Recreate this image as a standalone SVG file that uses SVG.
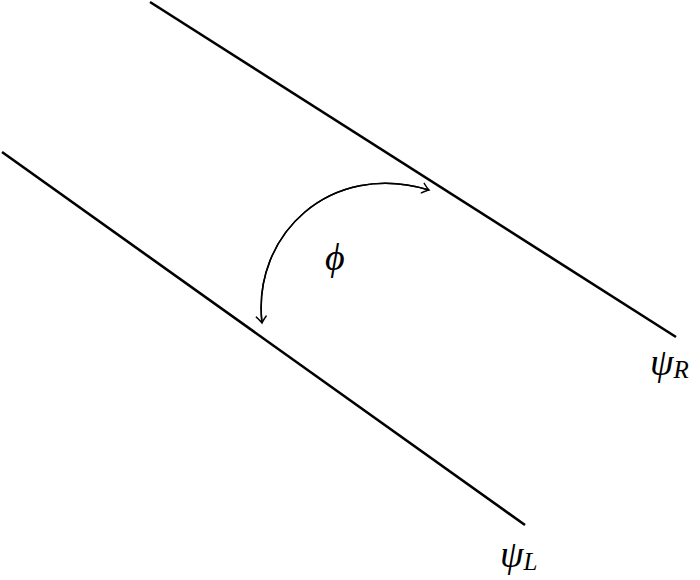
<svg xmlns="http://www.w3.org/2000/svg" width="700" height="580" viewBox="0 0 700 580">
<style>
.ln{stroke:#000;stroke-width:2.6;fill:none;stroke-linecap:butt}
.arc{stroke:#000;stroke-width:1.5;fill:none}
.m{font-family:"Liberation Serif","DejaVu Serif",serif;font-style:italic;fill:#000}
</style>
<defs>
<marker id="ah" viewBox="-8 -6 10 12" markerWidth="10" markerHeight="12" refX="0" refY="0" orient="auto" markerUnits="userSpaceOnUse">
<path d="M-6.5,-5 Q-2,-1 0,0 Q-2,1 -6.5,5" fill="none" stroke="#000" stroke-width="1.4" stroke-linecap="round"/>
</marker>
</defs>
<g id="psiR">
<line class="ln" x1="150" y1="2" x2="676" y2="337"/>
<text class="m" x="650" y="375" font-size="38">ψ<tspan font-size="25" dy="3">R</tspan></text>
</g>
<g id="psiL">
<line class="ln" x1="2" y1="152" x2="525" y2="525"/>
<text class="m" x="500" y="567" font-size="38">ψ<tspan font-size="25" dy="3">L</tspan></text>
</g>
<g id="connectors">
<path class="arc" d="M429,190 C330,160 252,235 262,323" marker-end="url(#ah)"/>
<path class="arc" d="M262,323 C252,235 330,160 429,190" marker-end="url(#ah)"/>
</g>
<g id="phi">
<text class="m" x="325" y="270" font-size="38">ϕ</text>
</g>
</svg>
